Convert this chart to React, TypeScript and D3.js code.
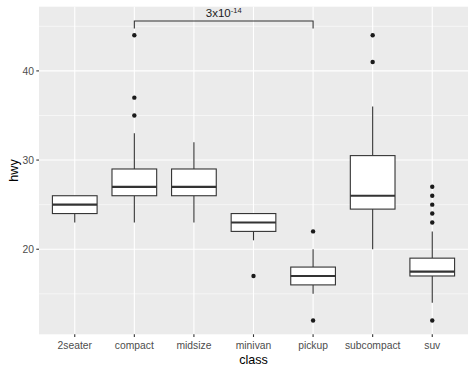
import React from 'react';
import * as d3 from 'd3';

// hwy by class (mpg), five-number summaries
const classes = ['2seater', 'compact', 'midsize', 'minivan', 'pickup', 'subcompact', 'suv'];
const lowerWhisker = [23, 23, 23, 21, 15, 20, 14];
const q1 = [24, 26, 26, 22, 16, 24.5, 17];
const median = [25, 27, 27, 23, 17, 26, 17.5];
const q3 = [26, 29, 29, 24, 18, 30.5, 19];
const upperWhisker = [26, 33, 32, 24, 20, 36, 22];
const outliers = [[], [35, 37, 44], [], [17], [12, 22], [41, 44], [12, 23, 24, 25, 26, 27]];
const yTicks = [20, 30, 40];
const yMinor = [15, 25, 35, 45];
const bracketFrom = 'compact';
const bracketTo = 'pickup';
const bracketY = 45.6;
const bracketDrop = 44.75;

const W = 474, H = 371;
const left = 39, right = 468, top = 6.7, bottom = 334.3;
const font = 'Liberation Sans, Arial, sans-serif';

const App = () => {
  const x = d3.scalePoint<string>().domain(classes).range([left, right]).padding(0.6);
  const bw = x.step() * 0.75;
  const y = d3.scaleLinear().domain([10.46, 47.2]).range([bottom, top]);
  const cx = (c: string) => x(c) as number;

  return (
    <svg width={W} height={H} style={{ position: 'absolute', left: 0, top: 0 }}>
      <rect x={0} y={0} width={W} height={H} fill="#fff" />
      <rect x={left} y={top} width={right - left} height={bottom - top} fill="#EBEBEB" />
      {yMinor.map(v => (
        <line key={'m' + v} x1={left} x2={right} y1={y(v)} y2={y(v)} stroke="#fff" strokeWidth={0.55} />
      ))}
      {yTicks.map(v => (
        <line key={'g' + v} x1={left} x2={right} y1={y(v)} y2={y(v)} stroke="#fff" strokeWidth={1.1} />
      ))}
      {classes.map(c => (
        <line key={'v' + c} x1={cx(c)} x2={cx(c)} y1={top} y2={bottom} stroke="#fff" strokeWidth={1.1} />
      ))}

      {classes.map((c, i) => {
        const xc = cx(c);
        return (
          <g key={c} stroke="#333333" fill="none">
            <line x1={xc} x2={xc} y1={y(q3[i])} y2={y(upperWhisker[i])} strokeWidth={1.1} />
            <line x1={xc} x2={xc} y1={y(q1[i])} y2={y(lowerWhisker[i])} strokeWidth={1.1} />
            <rect x={xc - bw / 2} y={y(q3[i])} width={bw} height={y(q1[i]) - y(q3[i])} fill="#fff" strokeWidth={1.1} />
            <line x1={xc - bw / 2} x2={xc + bw / 2} y1={y(median[i])} y2={y(median[i])} strokeWidth={2.2} />
            {outliers[i].map((o, j) => (
              <circle key={j} cx={xc} cy={y(o)} r={2.2} fill="#1a1a1a" stroke="none" />
            ))}
          </g>
        );
      })}

      {/* significance bracket */}
      <path
        d={`M${cx(bracketFrom)},${y(bracketDrop)}V${y(bracketY)}H${cx(bracketTo)}V${y(bracketDrop)}`}
        fill="none" stroke="#333333" strokeWidth={1.1} />
      <text x={(cx(bracketFrom) + cx(bracketTo)) / 2} y={y(bracketY) - 3.5} textAnchor="middle"
        fontFamily={font} fontSize={11.5} fill="#1a1a1a">
        3x10<tspan fontSize={7.5} dy={-4.5}>-14</tspan>
      </text>

      {/* axes */}
      {yTicks.map(v => (
        <g key={'t' + v}>
          <line x1={left - 2.7} x2={left} y1={y(v)} y2={y(v)} stroke="#333333" strokeWidth={1.1} />
          <text x={left - 5} y={y(v)} dy="0.35em" textAnchor="end" fontFamily={font} fontSize={10.3} fill="#4D4D4D">{v}</text>
        </g>
      ))}
      {classes.map(c => (
        <g key={'x' + c}>
          <line x1={cx(c)} x2={cx(c)} y1={bottom} y2={bottom + 2.7} stroke="#333333" strokeWidth={1.1} />
          <text x={cx(c)} y={bottom + 15} textAnchor="middle" fontFamily={font} fontSize={10.3} fill="#4D4D4D">{c}</text>
        </g>
      ))}
      <text x={(left + right) / 2} y={H - 7} textAnchor="middle" fontFamily={font} fontSize={12.6} fill="#000">class</text>
      <text transform={`translate(${17.5},${(top + bottom) / 2}) rotate(-90)`} textAnchor="middle"
        fontFamily={font} fontSize={12.6} fill="#000">hwy</text>
    </svg>
  );
};

export default App;
